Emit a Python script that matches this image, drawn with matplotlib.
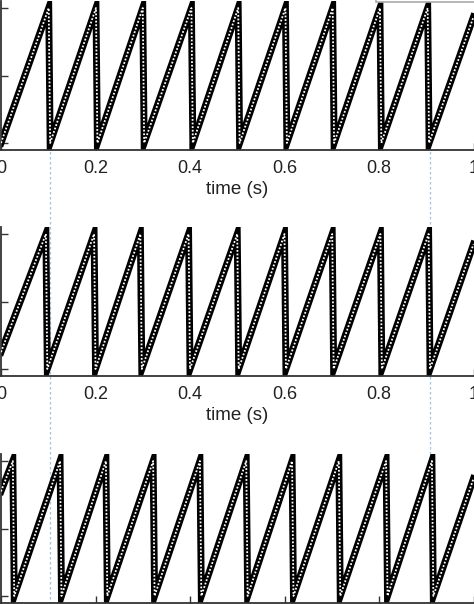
import matplotlib
matplotlib.use("Agg")
import matplotlib.pyplot as plt
from matplotlib.lines import Line2D
from matplotlib.patches import Rectangle

plt.rcParams['font.family'] = ['Liberation Sans', 'DejaVu Sans']

# Sawtooth vertices (time, value) for each panel
t1 = [0.0, 0.101, 0.104, 0.201, 0.204, 0.300, 0.303, 0.403, 0.406, 0.502, 0.505, 0.602, 0.605, 0.702, 0.705, 0.802, 0.805, 0.903, 0.906, 1.0]
y1 = [-1.0, 1.0, -1.0, 1.0, -1.0, 1.0, -1.0, 1.0, -1.0, 1.0, -1.0, 1.0, -1.0, 1.0, -1.0, 1.0, -1.0, 1.0, -1.0, 0.87]
t2 = [0.0, 0.095, 0.098, 0.197, 0.200, 0.295, 0.298, 0.397, 0.400, 0.500, 0.503, 0.600, 0.603, 0.701, 0.704, 0.803, 0.806, 0.905, 0.908, 1.0]
y2 = [-0.75, 1.0, -1.0, 1.0, -1.0, 1.0, -1.0, 1.0, -1.0, 1.0, -1.0, 1.0, -1.0, 1.0, -1.0, 1.0, -1.0, 1.0, -1.0, 0.85]
t3 = [0.0, 0.025, 0.028, 0.125, 0.128, 0.222, 0.225, 0.322, 0.325, 0.421, 0.424, 0.519, 0.522, 0.616, 0.619, 0.715, 0.718, 0.815, 0.818, 0.912, 0.915, 1.0]
y3 = [0.55, 1.0, -1.0, 1.0, -1.0, 1.0, -1.0, 1.0, -1.0, 1.0, -1.0, 1.0, -1.0, 1.0, -1.0, 1.0, -1.0, 1.0, -1.0, 1.0, -1.0, 0.74]
xticks = [0, 0.2, 0.4, 0.6, 0.8, 1]
xticklabels = ["0", "0.2", "0.4", "0.6", "0.8", "1"]
yticks = [-1, 0, 1]
marker_times = [0.104, 0.908]

W, H = 474, 604
fig = plt.figure(figsize=(W/100, H/100), dpi=100)

panels = [(t1, y1, 1, 150, True), (t2, y2, 227, 376, True), (t3, y3, 454, 603, False)]
for t, y, top, bot, showx in panels:
    ax = fig.add_axes([1/W, 1 - bot/H, 472.5/W, (bot - top)/H])
    ax.set_facecolor("none")
    ax.plot(t, y, color="black", lw=5, solid_joinstyle="miter", zorder=2)
    ax.plot(t, y, color="white", lw=1.3, ls=(0, (1, 1.0)), zorder=3)
    ax.set_xlim(0, 1)
    ax.set_ylim(-1.104, 1.104)
    ax.set_yticks(yticks)
    ax.set_yticklabels([])
    ax.set_xticks(xticks)
    ax.tick_params(direction="in", length=5, width=1, color="#333333", pad=7)
    ax.spines["top"].set_visible(False)
    ax.spines["right"].set_visible(False)
    for s in ("left", "bottom"):
        ax.spines[s].set_color("#333333")
        ax.spines[s].set_linewidth(1.3)
    if showx:
        ax.set_xticklabels(xticklabels, fontsize=13, color="#222222")
        ax.set_xlabel("time (s)", fontsize=13.5, labelpad=3, color="#222222")
    else:
        ax.set_xticklabels([])

for m in marker_times:
    xf = (1 + m * 472.5) / W
    fig.add_artist(Line2D([xf, xf], [0, 1], transform=fig.transFigure,
                          color="#9fc3e6", lw=0.9, ls=(0, (2, 2)), zorder=-1))

fig.add_artist(Rectangle((376/W, 1 - 2/H), 100/W, 4/H, transform=fig.transFigure,
                         facecolor="white", edgecolor="#aaaaaa", lw=1.2))

fig.savefig("out.png", dpi=100)
